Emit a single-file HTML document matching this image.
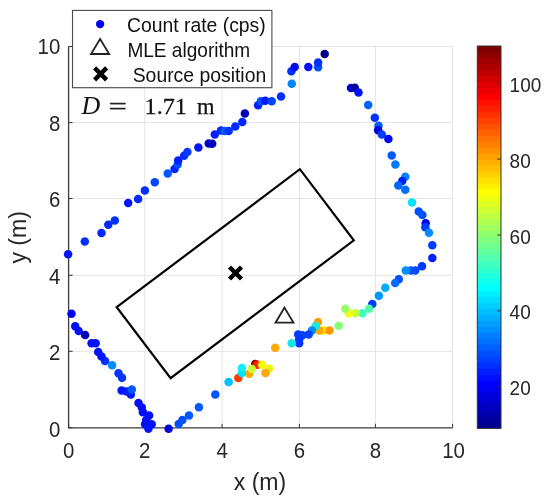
<!DOCTYPE html>
<html><head><meta charset="utf-8"><title>plot</title>
<style>html,body{margin:0;padding:0;background:#fff}svg{display:block;filter:blur(0.5px)}</style>
</head><body>
<svg width="550" height="501" viewBox="0 0 550 501">
<rect width="550" height="501" fill="#fff"/>
<line x1="144.8" y1="46.5" x2="144.8" y2="427.8" stroke="#e4e4e4" stroke-width="1"/>
<line x1="68.6" y1="351.3" x2="452.6" y2="351.3" stroke="#e4e4e4" stroke-width="1"/>
<line x1="222.1" y1="46.5" x2="222.1" y2="427.8" stroke="#e4e4e4" stroke-width="1"/>
<line x1="68.6" y1="275.3" x2="452.6" y2="275.3" stroke="#e4e4e4" stroke-width="1"/>
<line x1="299.4" y1="46.5" x2="299.4" y2="427.8" stroke="#e4e4e4" stroke-width="1"/>
<line x1="68.6" y1="198.5" x2="452.6" y2="198.5" stroke="#e4e4e4" stroke-width="1"/>
<line x1="375.4" y1="46.5" x2="375.4" y2="427.8" stroke="#e4e4e4" stroke-width="1"/>
<line x1="68.6" y1="122.6" x2="452.6" y2="122.6" stroke="#e4e4e4" stroke-width="1"/>
<line x1="452.6" y1="46.5" x2="452.6" y2="427.8" stroke="#e4e4e4" stroke-width="1"/>
<line x1="68.6" y1="46.5" x2="452.6" y2="46.5" stroke="#e4e4e4" stroke-width="1"/>
<path d="M68.6,46.5 V427.8 H452.6" fill="none" stroke="#3c3c3c" stroke-width="1.3"/>
<line x1="68.6" y1="427.8" x2="68.6" y2="423.8" stroke="#333" stroke-width="1"/>
<line x1="68.6" y1="427.8" x2="72.6" y2="427.8" stroke="#333" stroke-width="1"/>
<line x1="144.8" y1="427.8" x2="144.8" y2="423.8" stroke="#333" stroke-width="1"/>
<line x1="68.6" y1="351.3" x2="72.6" y2="351.3" stroke="#333" stroke-width="1"/>
<line x1="222.1" y1="427.8" x2="222.1" y2="423.8" stroke="#333" stroke-width="1"/>
<line x1="68.6" y1="275.3" x2="72.6" y2="275.3" stroke="#333" stroke-width="1"/>
<line x1="299.4" y1="427.8" x2="299.4" y2="423.8" stroke="#333" stroke-width="1"/>
<line x1="68.6" y1="198.5" x2="72.6" y2="198.5" stroke="#333" stroke-width="1"/>
<line x1="375.4" y1="427.8" x2="375.4" y2="423.8" stroke="#333" stroke-width="1"/>
<line x1="68.6" y1="122.6" x2="72.6" y2="122.6" stroke="#333" stroke-width="1"/>
<line x1="452.6" y1="427.8" x2="452.6" y2="423.8" stroke="#333" stroke-width="1"/>
<line x1="68.6" y1="46.5" x2="72.6" y2="46.5" stroke="#333" stroke-width="1"/>
<polygon points="116.7,307.2 299.9,169.2 353.8,240.4 170.6,378.2" fill="none" stroke="#000" stroke-width="2.2" stroke-linejoin="miter"/>
<circle cx="68.1" cy="254.2" r="4.25" fill="#0014ff"/>
<circle cx="84.8" cy="241.5" r="4.25" fill="#0030ff"/>
<circle cx="101.5" cy="233.1" r="4.25" fill="#0028ff"/>
<circle cx="108.3" cy="224.8" r="4.25" fill="#0028ff"/>
<circle cx="114.8" cy="220.4" r="4.25" fill="#0030ff"/>
<circle cx="128.2" cy="203.1" r="4.25" fill="#0014ff"/>
<circle cx="138.1" cy="199.1" r="4.25" fill="#0028ff"/>
<circle cx="144.9" cy="190.6" r="4.25" fill="#0030ff"/>
<circle cx="154.8" cy="182.3" r="4.25" fill="#0048ff"/>
<circle cx="167.7" cy="173.5" r="4.25" fill="#0058ff"/>
<circle cx="174.6" cy="169.1" r="4.25" fill="#0020ff"/>
<circle cx="177.6" cy="164.5" r="4.25" fill="#0050ff"/>
<circle cx="178.2" cy="160.4" r="4.25" fill="#0020ff"/>
<circle cx="184.1" cy="155.7" r="4.25" fill="#0030ff"/>
<circle cx="187.4" cy="152" r="4.25" fill="#0038ff"/>
<circle cx="198.4" cy="147.6" r="4.25" fill="#0014ff"/>
<circle cx="208.7" cy="143.6" r="4.25" fill="#0000c8"/>
<circle cx="212.2" cy="143.8" r="4.25" fill="#0000c0"/>
<circle cx="214.8" cy="134.4" r="4.25" fill="#0020ff"/>
<circle cx="221" cy="130.5" r="4.25" fill="#0028ff"/>
<circle cx="224.7" cy="131.1" r="4.25" fill="#0058ff"/>
<circle cx="228.7" cy="130.9" r="4.25" fill="#0030ff"/>
<circle cx="235.3" cy="126.5" r="4.25" fill="#0028ff"/>
<circle cx="242.3" cy="122.1" r="4.25" fill="#0028ff"/>
<circle cx="244.9" cy="113.6" r="4.25" fill="#0000b8"/>
<circle cx="258.1" cy="105.2" r="4.25" fill="#0020ff"/>
<circle cx="260.9" cy="101.3" r="4.25" fill="#0050ff"/>
<circle cx="265.3" cy="100.8" r="4.25" fill="#0018ff"/>
<circle cx="271.7" cy="101.3" r="4.25" fill="#0044ff"/>
<circle cx="281" cy="96.5" r="4.25" fill="#0030ff"/>
<circle cx="291.8" cy="83.8" r="4.25" fill="#0084ff"/>
<circle cx="291.4" cy="71.2" r="4.25" fill="#0030ff"/>
<circle cx="294.7" cy="66.9" r="4.25" fill="#0008f0"/>
<circle cx="308.3" cy="66.9" r="4.25" fill="#0010ff"/>
<circle cx="318.1" cy="67.3" r="4.25" fill="#0050ff"/>
<circle cx="318.1" cy="62.5" r="4.25" fill="#0030ff"/>
<circle cx="324.7" cy="54.1" r="4.25" fill="#000090"/>
<circle cx="351" cy="88.1" r="4.25" fill="#0000d0"/>
<circle cx="354.8" cy="87.7" r="4.25" fill="#0000a0"/>
<circle cx="358.5" cy="92.5" r="4.25" fill="#0010ff"/>
<circle cx="368.2" cy="105.1" r="4.25" fill="#0064ff"/>
<circle cx="374.8" cy="117.8" r="4.25" fill="#0030ff"/>
<circle cx="378.5" cy="125.8" r="4.25" fill="#005cff"/>
<circle cx="378.1" cy="130.3" r="4.25" fill="#0000e0"/>
<circle cx="381.8" cy="134.5" r="4.25" fill="#0040ff"/>
<circle cx="388.4" cy="138.9" r="4.25" fill="#0008f8"/>
<circle cx="391.7" cy="155.4" r="4.25" fill="#0058ff"/>
<circle cx="395.4" cy="164.6" r="4.25" fill="#0078ff"/>
<circle cx="405.3" cy="176.7" r="4.25" fill="#0084ff"/>
<circle cx="402.2" cy="181" r="4.25" fill="#0020f0"/>
<circle cx="398.3" cy="185.4" r="4.25" fill="#0068ff"/>
<circle cx="405.3" cy="189.8" r="4.25" fill="#0070ff"/>
<circle cx="412" cy="202.6" r="4.25" fill="#00e4ff"/>
<circle cx="418.7" cy="211.4" r="4.25" fill="#0050ff"/>
<circle cx="422.4" cy="215.1" r="4.25" fill="#0050ff"/>
<circle cx="425.7" cy="223.2" r="4.25" fill="#0000f0"/>
<circle cx="425.3" cy="227.2" r="4.25" fill="#003cff"/>
<circle cx="429" cy="232.7" r="4.25" fill="#008cff"/>
<circle cx="432.3" cy="245.2" r="4.25" fill="#003cff"/>
<circle cx="432.3" cy="257.9" r="4.25" fill="#0020ff"/>
<circle cx="422" cy="266.2" r="4.25" fill="#0034ff"/>
<circle cx="415.2" cy="270.6" r="4.25" fill="#0048ff"/>
<circle cx="410.8" cy="270.6" r="4.25" fill="#0050ff"/>
<circle cx="405.8" cy="270.6" r="4.25" fill="#0090ff"/>
<circle cx="398.8" cy="279.2" r="4.25" fill="#0050ff"/>
<circle cx="395.2" cy="283" r="4.25" fill="#006cff"/>
<circle cx="385.3" cy="287.7" r="4.25" fill="#00acff"/>
<circle cx="378.9" cy="295.8" r="4.25" fill="#0098ff"/>
<circle cx="372.3" cy="303.9" r="4.25" fill="#003cff"/>
<circle cx="369" cy="308.7" r="4.25" fill="#50ffa8"/>
<circle cx="362.4" cy="313.3" r="4.25" fill="#3cffc4"/>
<circle cx="355.4" cy="313.3" r="4.25" fill="#c8ff34"/>
<circle cx="348.8" cy="313.3" r="4.25" fill="#f4ff10"/>
<circle cx="345.3" cy="308.7" r="4.25" fill="#98ff64"/>
<circle cx="338.7" cy="325.8" r="4.25" fill="#84ff78"/>
<circle cx="323.7" cy="330.4" r="4.25" fill="#ffe400"/>
<circle cx="329.5" cy="330.6" r="4.25" fill="#ff9800"/>
<circle cx="319.4" cy="330.6" r="4.25" fill="#ffa800"/>
<circle cx="318" cy="322" r="4.25" fill="#ffa000"/>
<circle cx="315.6" cy="326" r="4.25" fill="#20e8e0"/>
<circle cx="311.9" cy="330.4" r="4.25" fill="#008cff"/>
<circle cx="308.7" cy="334.6" r="4.25" fill="#0044ff"/>
<circle cx="302.4" cy="335.2" r="4.25" fill="#0040ff"/>
<circle cx="298.2" cy="334.6" r="4.25" fill="#003cff"/>
<circle cx="299.2" cy="339.2" r="4.25" fill="#0038ff"/>
<circle cx="299.2" cy="343.3" r="4.25" fill="#0034ff"/>
<circle cx="291.7" cy="343.3" r="4.25" fill="#10e8ec"/>
<circle cx="275.3" cy="347.8" r="4.25" fill="#ffa800"/>
<circle cx="255.2" cy="364.1" r="4.25" fill="#800000"/>
<circle cx="257.2" cy="364.7" r="4.25" fill="#ff2000"/>
<circle cx="249.2" cy="373.8" r="4.25" fill="#ffa800"/>
<circle cx="269.2" cy="368.5" r="4.25" fill="#f0f414"/>
<circle cx="262.1" cy="364.7" r="4.25" fill="#fff800"/>
<circle cx="265.4" cy="373.1" r="4.25" fill="#ffa800"/>
<circle cx="251.7" cy="369.1" r="4.25" fill="#c8ff34"/>
<circle cx="238.3" cy="378" r="4.25" fill="#ff3c00"/>
<circle cx="241.9" cy="372.9" r="4.25" fill="#00e4ff"/>
<circle cx="241.9" cy="368" r="4.25" fill="#14ecf8"/>
<circle cx="228.6" cy="381.9" r="4.25" fill="#00c4ff"/>
<circle cx="215.3" cy="394.5" r="4.25" fill="#0058ff"/>
<circle cx="198.9" cy="407.2" r="4.25" fill="#0058ff"/>
<circle cx="189" cy="415.6" r="4.25" fill="#0058ff"/>
<circle cx="182.4" cy="420" r="4.25" fill="#0050ff"/>
<circle cx="178.7" cy="423.9" r="4.25" fill="#0050ff"/>
<circle cx="168.6" cy="428.7" r="4.25" fill="#0000d8"/>
<circle cx="148.4" cy="428.7" r="4.25" fill="#0014ff"/>
<circle cx="151.7" cy="424.3" r="4.25" fill="#0010f8"/>
<circle cx="145.1" cy="424.3" r="4.25" fill="#0010f8"/>
<circle cx="146.2" cy="420" r="4.25" fill="#0010f8"/>
<circle cx="149.1" cy="415.6" r="4.25" fill="#0010f8"/>
<circle cx="142.9" cy="412.3" r="4.25" fill="#0010f8"/>
<circle cx="141.8" cy="407.4" r="4.25" fill="#0010f8"/>
<circle cx="138.5" cy="403.1" r="4.25" fill="#0010f0"/>
<circle cx="130.8" cy="394.5" r="4.25" fill="#0018ff"/>
<circle cx="126.5" cy="391.5" r="4.25" fill="#0020ff"/>
<circle cx="121.6" cy="390.4" r="4.25" fill="#0018ff"/>
<circle cx="131.8" cy="389.6" r="4.25" fill="#0058ff"/>
<circle cx="122" cy="377.8" r="4.25" fill="#0034ff"/>
<circle cx="118.5" cy="373.3" r="4.25" fill="#0034ff"/>
<circle cx="112.1" cy="365.2" r="4.25" fill="#008cff"/>
<circle cx="105" cy="360.9" r="4.25" fill="#0030ff"/>
<circle cx="101.5" cy="356.5" r="4.25" fill="#0014ff"/>
<circle cx="98.2" cy="352.1" r="4.25" fill="#0014ff"/>
<circle cx="95.6" cy="343.3" r="4.25" fill="#0010ff"/>
<circle cx="91.6" cy="343.3" r="4.25" fill="#0010ff"/>
<circle cx="85.1" cy="335" r="4.25" fill="#0000b4"/>
<circle cx="78.7" cy="331" r="4.25" fill="#0010f8"/>
<circle cx="75.2" cy="326.2" r="4.25" fill="#0010f8"/>
<circle cx="71.5" cy="313.7" r="4.25" fill="#0000f0"/>
<polygon points="284.5,307.6 293.5,322.7 275.5,322.7" fill="none" stroke="#222" stroke-width="1.8"/>
<path d="M229.5,267 L241.5,279 M241.5,267 L229.5,279" stroke="#000" stroke-width="4.4" fill="none"/>
<text transform="translate(68.6,457.6) scale(0.95,1)" font-family="Liberation Sans, Arial, sans-serif" font-size="21.5" fill="#262626" text-anchor="middle">0</text>
<text transform="translate(60.3,436.8) scale(0.95,1)" font-family="Liberation Sans, Arial, sans-serif" font-size="21.5" fill="#262626" text-anchor="end">0</text>
<text transform="translate(144.8,457.6) scale(0.95,1)" font-family="Liberation Sans, Arial, sans-serif" font-size="21.5" fill="#262626" text-anchor="middle">2</text>
<text transform="translate(60.3,359.8) scale(0.95,1)" font-family="Liberation Sans, Arial, sans-serif" font-size="21.5" fill="#262626" text-anchor="end">2</text>
<text transform="translate(222.1,457.6) scale(0.95,1)" font-family="Liberation Sans, Arial, sans-serif" font-size="21.5" fill="#262626" text-anchor="middle">4</text>
<text transform="translate(60.3,283.8) scale(0.95,1)" font-family="Liberation Sans, Arial, sans-serif" font-size="21.5" fill="#262626" text-anchor="end">4</text>
<text transform="translate(299.4,457.6) scale(0.95,1)" font-family="Liberation Sans, Arial, sans-serif" font-size="21.5" fill="#262626" text-anchor="middle">6</text>
<text transform="translate(60.3,207.0) scale(0.95,1)" font-family="Liberation Sans, Arial, sans-serif" font-size="21.5" fill="#262626" text-anchor="end">6</text>
<text transform="translate(375.4,457.6) scale(0.95,1)" font-family="Liberation Sans, Arial, sans-serif" font-size="21.5" fill="#262626" text-anchor="middle">8</text>
<text transform="translate(60.3,131.1) scale(0.95,1)" font-family="Liberation Sans, Arial, sans-serif" font-size="21.5" fill="#262626" text-anchor="end">8</text>
<text transform="translate(453.5,457.6) scale(0.95,1)" font-family="Liberation Sans, Arial, sans-serif" font-size="21.5" fill="#262626" text-anchor="middle">10</text>
<text transform="translate(60.3,53.8) scale(0.95,1)" font-family="Liberation Sans, Arial, sans-serif" font-size="21.5" fill="#262626" text-anchor="end">10</text>
<text transform="translate(260,490) scale(0.97,1)" font-family="Liberation Sans, Arial, sans-serif" font-size="23.8" fill="#262626" text-anchor="middle">x (m)</text>
<text transform="translate(25.8,237.3) rotate(-90) scale(0.97,1)" font-family="Liberation Sans, Arial, sans-serif" font-size="23.8" fill="#262626" text-anchor="middle">y (m)</text>
<rect x="477.3" y="421.42" width="23.7" height="6.97" fill="#00008f"/>
<rect x="477.3" y="415.45" width="23.7" height="6.97" fill="#00009f"/>
<rect x="477.3" y="409.47" width="23.7" height="6.97" fill="#0000af"/>
<rect x="477.3" y="403.50" width="23.7" height="6.97" fill="#0000bf"/>
<rect x="477.3" y="397.52" width="23.7" height="6.97" fill="#0000cf"/>
<rect x="477.3" y="391.55" width="23.7" height="6.97" fill="#0000df"/>
<rect x="477.3" y="385.57" width="23.7" height="6.97" fill="#0000ef"/>
<rect x="477.3" y="379.60" width="23.7" height="6.97" fill="#0000ff"/>
<rect x="477.3" y="373.62" width="23.7" height="6.97" fill="#0010ff"/>
<rect x="477.3" y="367.65" width="23.7" height="6.97" fill="#0020ff"/>
<rect x="477.3" y="361.67" width="23.7" height="6.97" fill="#0030ff"/>
<rect x="477.3" y="355.70" width="23.7" height="6.97" fill="#0040ff"/>
<rect x="477.3" y="349.72" width="23.7" height="6.97" fill="#0050ff"/>
<rect x="477.3" y="343.75" width="23.7" height="6.97" fill="#0060ff"/>
<rect x="477.3" y="337.77" width="23.7" height="6.97" fill="#0070ff"/>
<rect x="477.3" y="331.80" width="23.7" height="6.97" fill="#0080ff"/>
<rect x="477.3" y="325.82" width="23.7" height="6.97" fill="#008fff"/>
<rect x="477.3" y="319.85" width="23.7" height="6.97" fill="#009fff"/>
<rect x="477.3" y="313.87" width="23.7" height="6.97" fill="#00afff"/>
<rect x="477.3" y="307.90" width="23.7" height="6.97" fill="#00bfff"/>
<rect x="477.3" y="301.92" width="23.7" height="6.97" fill="#00cfff"/>
<rect x="477.3" y="295.95" width="23.7" height="6.97" fill="#00dfff"/>
<rect x="477.3" y="289.97" width="23.7" height="6.97" fill="#00efff"/>
<rect x="477.3" y="284.00" width="23.7" height="6.97" fill="#00ffff"/>
<rect x="477.3" y="278.02" width="23.7" height="6.97" fill="#10ffef"/>
<rect x="477.3" y="272.05" width="23.7" height="6.97" fill="#20ffdf"/>
<rect x="477.3" y="266.07" width="23.7" height="6.97" fill="#30ffcf"/>
<rect x="477.3" y="260.10" width="23.7" height="6.97" fill="#40ffbf"/>
<rect x="477.3" y="254.13" width="23.7" height="6.97" fill="#50ffaf"/>
<rect x="477.3" y="248.15" width="23.7" height="6.97" fill="#60ff9f"/>
<rect x="477.3" y="242.17" width="23.7" height="6.97" fill="#70ff8f"/>
<rect x="477.3" y="236.20" width="23.7" height="6.97" fill="#80ff80"/>
<rect x="477.3" y="230.22" width="23.7" height="6.97" fill="#8fff70"/>
<rect x="477.3" y="224.25" width="23.7" height="6.97" fill="#9fff60"/>
<rect x="477.3" y="218.28" width="23.7" height="6.97" fill="#afff50"/>
<rect x="477.3" y="212.30" width="23.7" height="6.97" fill="#bfff40"/>
<rect x="477.3" y="206.32" width="23.7" height="6.97" fill="#cfff30"/>
<rect x="477.3" y="200.35" width="23.7" height="6.97" fill="#dfff20"/>
<rect x="477.3" y="194.38" width="23.7" height="6.97" fill="#efff10"/>
<rect x="477.3" y="188.40" width="23.7" height="6.97" fill="#ffff00"/>
<rect x="477.3" y="182.42" width="23.7" height="6.97" fill="#ffef00"/>
<rect x="477.3" y="176.45" width="23.7" height="6.97" fill="#ffdf00"/>
<rect x="477.3" y="170.47" width="23.7" height="6.97" fill="#ffcf00"/>
<rect x="477.3" y="164.50" width="23.7" height="6.97" fill="#ffbf00"/>
<rect x="477.3" y="158.53" width="23.7" height="6.97" fill="#ffaf00"/>
<rect x="477.3" y="152.55" width="23.7" height="6.97" fill="#ff9f00"/>
<rect x="477.3" y="146.58" width="23.7" height="6.97" fill="#ff8f00"/>
<rect x="477.3" y="140.60" width="23.7" height="6.97" fill="#ff8000"/>
<rect x="477.3" y="134.63" width="23.7" height="6.97" fill="#ff7000"/>
<rect x="477.3" y="128.65" width="23.7" height="6.97" fill="#ff6000"/>
<rect x="477.3" y="122.67" width="23.7" height="6.97" fill="#ff5000"/>
<rect x="477.3" y="116.70" width="23.7" height="6.97" fill="#ff4000"/>
<rect x="477.3" y="110.72" width="23.7" height="6.97" fill="#ff3000"/>
<rect x="477.3" y="104.75" width="23.7" height="6.97" fill="#ff2000"/>
<rect x="477.3" y="98.78" width="23.7" height="6.97" fill="#ff1000"/>
<rect x="477.3" y="92.80" width="23.7" height="6.97" fill="#ff0000"/>
<rect x="477.3" y="86.83" width="23.7" height="6.97" fill="#ef0000"/>
<rect x="477.3" y="80.85" width="23.7" height="6.97" fill="#df0000"/>
<rect x="477.3" y="74.88" width="23.7" height="6.97" fill="#cf0000"/>
<rect x="477.3" y="68.90" width="23.7" height="6.97" fill="#bf0000"/>
<rect x="477.3" y="62.92" width="23.7" height="6.97" fill="#af0000"/>
<rect x="477.3" y="56.95" width="23.7" height="6.97" fill="#9f0000"/>
<rect x="477.3" y="50.97" width="23.7" height="6.97" fill="#8f0000"/>
<rect x="477.3" y="46.00" width="23.7" height="5.97" fill="#800000"/>
<rect x="477.3" y="46.0" width="23.7" height="382.4" fill="none" stroke="#333" stroke-width="1"/>
<line x1="497.2" y1="83.2" x2="501" y2="83.2" stroke="#333" stroke-width="1"/>
<text transform="translate(509.6,91.8) scale(0.95,1)" font-family="Liberation Sans, Arial, sans-serif" font-size="20" fill="#262626" text-anchor="start">100</text>
<line x1="497.2" y1="159.1" x2="501" y2="159.1" stroke="#333" stroke-width="1"/>
<text transform="translate(509.6,167.7) scale(0.95,1)" font-family="Liberation Sans, Arial, sans-serif" font-size="20" fill="#262626" text-anchor="start">80</text>
<line x1="497.2" y1="235.0" x2="501" y2="235.0" stroke="#333" stroke-width="1"/>
<text transform="translate(509.6,243.6) scale(0.95,1)" font-family="Liberation Sans, Arial, sans-serif" font-size="20" fill="#262626" text-anchor="start">60</text>
<line x1="497.2" y1="310.8" x2="501" y2="310.8" stroke="#333" stroke-width="1"/>
<text transform="translate(509.6,319.4) scale(0.95,1)" font-family="Liberation Sans, Arial, sans-serif" font-size="20" fill="#262626" text-anchor="start">40</text>
<line x1="497.2" y1="386.7" x2="501" y2="386.7" stroke="#333" stroke-width="1"/>
<text transform="translate(509.6,395.3) scale(0.95,1)" font-family="Liberation Sans, Arial, sans-serif" font-size="20" fill="#262626" text-anchor="start">20</text>
<rect x="72.5" y="10.4" width="199.4" height="77.3" fill="#fff" stroke="#4a4a4a" stroke-width="1.1"/>
<circle cx="100.1" cy="24.1" r="4.2" fill="#0000ff"/>
<polygon points="100.1,39 109.2,54 91,54" fill="none" stroke="#222" stroke-width="1.8"/>
<path d="M94.6,67.9 L106.6,79.9 M106.6,67.9 L94.6,79.9" stroke="#000" stroke-width="4.4" fill="none"/>
<text transform="translate(126.9,31.6) scale(0.945,1)" font-family="Liberation Sans, Arial, sans-serif" font-size="20.5" fill="#111" text-anchor="start">Count rate (cps)</text>
<text transform="translate(127.4,56.8) scale(0.93,1)" font-family="Liberation Sans, Arial, sans-serif" font-size="20.5" fill="#111" text-anchor="start">MLE algorithm</text>
<text transform="translate(132.7,81.8) scale(0.945,1)" font-family="Liberation Sans, Arial, sans-serif" font-size="20.5" fill="#111" text-anchor="start">Source position</text>
<text transform="translate(81.5,114.4) scale(1.06,1)" font-family="Liberation Serif, Times New Roman, serif" font-size="24.5" font-style="italic" fill="#111">D</text>
<text transform="translate(108.5,114.2) scale(1.42,1)" font-family="Liberation Serif, Times New Roman, serif" font-size="23" fill="#222" stroke="#222" stroke-width="0.35">=</text>
<text transform="translate(144.6,114.3) scale(1.05,1)" font-family="Liberation Serif, Times New Roman, serif" font-size="23" fill="#111" stroke="#111" stroke-width="0.25">1.71</text>
<text x="197" y="114.3" font-family="Liberation Serif, Times New Roman, serif" font-size="22.5" fill="#111" stroke="#111" stroke-width="0.25">m</text>
</svg>
</body></html>
